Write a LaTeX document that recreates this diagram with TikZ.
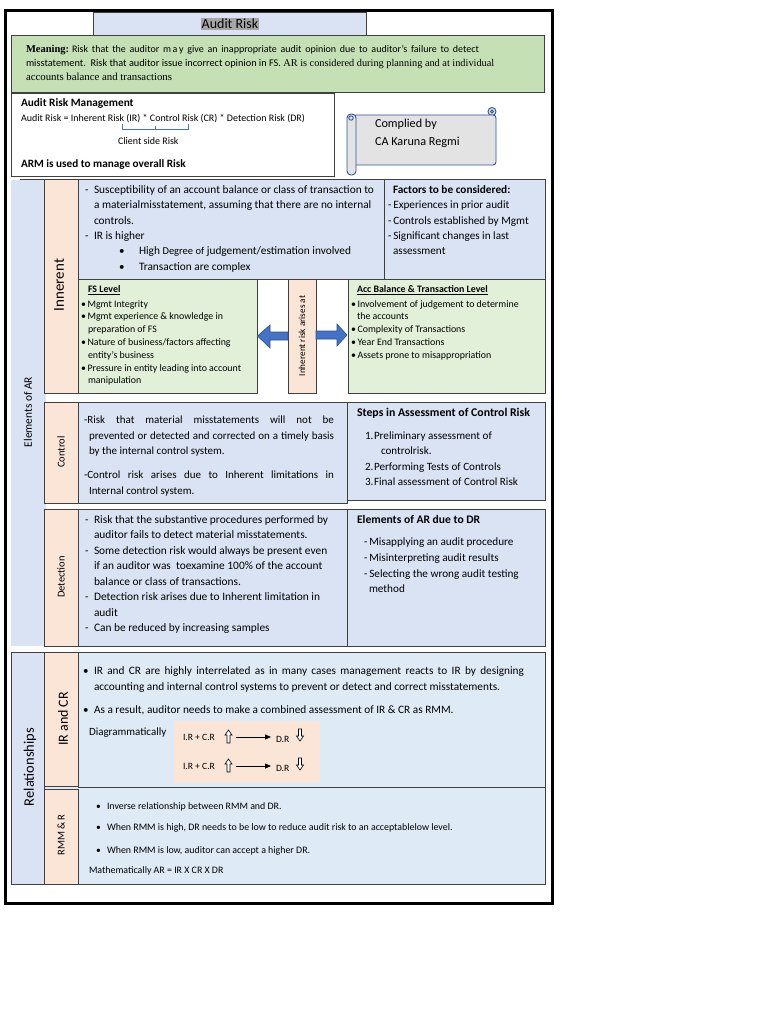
\documentclass[tikz,border=0pt]{standalone}
\usepackage{fontspec}
\setmainfont{Carlito}
\newfontfamily\serifm{Liberation Serif}
\usetikzlibrary{arrows.meta}
\definecolor{lblue}{HTML}{DAE3F3}
\definecolor{rblue}{HTML}{DEEBF7}
\definecolor{mgreen}{HTML}{C5E0B4}
\definecolor{lgreen}{HTML}{E2F0D9}
\definecolor{peach}{HTML}{FBE5D6}
\definecolor{dblue}{HTML}{4472C4}
\definecolor{dblueline}{HTML}{2F528F}
\definecolor{sblue}{HTML}{2F5597}
\definecolor{bord}{HTML}{404040}
\definecolor{scrollg}{HTML}{E3E3E3}
\definecolor{hgray}{HTML}{A6A6A6}
\newcounter{tl}
\newcommand\TL[5][]{\stepcounter{tl}\node[txt,font=\fontsize{#4}{#4}\selectfont,#1] (tl\arabic{tl}) at (#2,#3) {#5};}
\newcommand\JL[6][]{\stepcounter{tl}\node[txt,font=\fontsize{#4}{#4}\selectfont,#1] (tl\arabic{tl}) at (#2,#3) {\makebox[#5pt][s]{#6}};}
\newcommand\UpA[2]{\draw[line width=0.6,fill=white] ({#1-1.5},{#2+13}) -- ({#1-1.5},{#2+5}) -- ({#1-3.5},{#2+5}) -- (#1,#2) -- ({#1+3.5},{#2+5}) -- ({#1+1.5},{#2+5}) -- ({#1+1.5},{#2+13}) -- cycle;}
\newcommand\DnA[2]{\draw[line width=0.6,fill=white] ({#1-1.5},#2) -- ({#1-1.5},{#2+7}) -- ({#1-3.5},{#2+7}) -- (#1,{#2+12}) -- ({#1+3.5},{#2+7}) -- ({#1+1.5},{#2+7}) -- ({#1+1.5},#2) -- cycle;}
\tikzset{
  box/.style={draw=bord, line width=0.8pt},
  txt/.style={anchor=mid west, inner sep=0pt, outer sep=0pt},
  vlab/.style={rotate=90, inner sep=0pt, anchor=center},
  blockarrow/.style={fill=dblue, draw=dblueline, line width=0.6pt},
}
\begin{document}
\begin{tikzpicture}[x=1pt,y=-1pt]
\useasboundingbox (0,0) rectangle (768,1024);
\fill[white] (0,0) rectangle (768,1024);

% ---------- outer frame
\draw[line width=3pt] (5.5,11) rectangle (552.5,903);

% ---------- title
\draw[box, fill=lblue] (93,12) rectangle (366,36);
\node[fill=hgray, inner xsep=0.5pt, inner ysep=1.5pt, font=\fontsize{14}{14}\selectfont] (title) at (230,24) {Audit Risk};

% ---------- meaning
\draw[box, line width=1pt, fill=mgreen] (11,36) rectangle (544,93);
\TL{26}{50}{10.5}{\serifm\bfseries Meaning:}
\JL{72}{50}{10}{407}{Risk that the auditor m\,a\,y give an inappropriate audit opinion due to auditor's failure to detect}
\TL{26}{64}{10.3}{misstatement.\ \ Risk that auditor issue incorrect opinion in FS. {\serifm AR is considered during planning and at individual}}
\TL{26}{78}{10.8}{\serifm accounts balance and transactions}

% ---------- ARM box
\draw[box] (11,93) rectangle (334,176);
\TL{21}{104}{11.3}{\bfseries Audit Risk Management}
\TL{21}{119}{10}{Audit Risk = Inherent Risk (IR) * Control Risk (CR) * Detection Risk (DR)}
\draw[dblue, line width=0.6pt] (122,124) -- (122,129) -- (188,129) -- (188,124);
\draw[dblue, line width=0.6pt] (155,129) -- (155,126);
\TL{118}{142}{10}{Client side Risk}
\TL{21}{165}{11.2}{\bfseries ARM is used to manage overall Risk}

% ---------- scroll
\begin{scope}[draw=sblue, line width=0.9pt, fill=scrollg]
  \filldraw (492,111.5) circle (4);
  \filldraw[rounded corners=3pt] (353,115) -- (496,115) -- (496,165) -- (353,165) -- cycle;
  \draw (492,111.5) circle (1.6);
  \filldraw[rounded corners=4pt] (347,114) rectangle (356,175);
  \draw (351,118) circle (2.2);
\end{scope}
\TL{375}{125}{12.2}{Complied by}
\TL{375}{143}{12.2}{CA Karuna Regmi}

% ---------- elements of AR band
\fill[lblue] (11,180) rectangle (46,646);
\draw[bord, line width=0.8pt] (20,179) -- (545,179);
\node[vlab, font=\fontsize{11.4}{11.4}\selectfont] (elab) at (28,412) {Elements of AR};

% ---------- inherent
\draw[box, fill=peach] (44,179) rectangle (78,393);
\node[vlab, font=\fontsize{15}{15}\selectfont] (inlab) at (59,285) {Innerent};
\draw[box, fill=lblue] (78,179) rectangle (384,279);
\draw[box, fill=lblue] (384,179) rectangle (545,279);
\draw[box, fill=lgreen] (78,279) rectangle (257,393);
\draw[box, fill=peach] (288,279) rectangle (316,393);
\draw[box, fill=lgreen] (348,279) rectangle (545,393);
\node[vlab, font=\fontsize{9.2}{9.2}\selectfont] (arise) at (302,336) {Inherent risk arises at};
\draw[blockarrow] (288,332) -- (270,332) -- (270,325) -- (257.5,336) -- (270,348) -- (270,340) -- (288,340) -- cycle;
\draw[blockarrow] (316,331) -- (337,331) -- (337,324) -- (347,335) -- (337,346) -- (337,339) -- (316,339) -- cycle;

\TL{85}{191}{11.3}{-}
\TL{94}{191}{11.35}{Susceptibility of an account balance or class of transaction to}
\TL{94}{206}{11.35}{a materialmisstatement, assuming that there are no internal}
\TL{94}{222}{11.35}{controls.}
\TL{85}{237}{11.3}{-}
\TL{94}{237}{11.35}{IR is higher}
\TL{119}{252}{11}{\textbullet}
\TL{139}{252}{11.35}{High {\fontsize{10.5}{10.5}\selectfont Degree of} judgement/estimation involved}
\TL{119}{268}{11}{\textbullet}
\TL{139}{268}{11.35}{Transaction are complex}

\TL{393}{191}{11.3}{\bfseries Factors to be considered:}
\TL{388}{206}{11.2}{-\,Experiences in prior audit}
\TL{388}{222}{11.2}{-\,Controls established by Mgmt}
\TL{388}{237}{11.2}{-\,Significant changes in last}
\TL{393}{252}{11.2}{assessment}

\TL{88}{290}{9.9}{\bfseries\underline{FS Level}}
\TL{81}{305}{9.9}{\textbullet\,Mgmt Integrity}
\TL{81}{317}{9.9}{\textbullet\,Mgmt experience \& knowledge in}
\TL{88}{330}{9.9}{preparation of FS}
\TL{81}{343}{9.9}{\textbullet\,Nature of business/factors affecting}
\TL{88}{356}{9.9}{entity's business}
\TL{81}{369}{9.9}{\textbullet\,Pressure in entity leading into account}
\TL{88}{381}{9.9}{manipulation}

\TL{357}{290}{9.9}{\bfseries\underline{Acc Balance \& Transaction Level}}
\TL{351}{305}{9.9}{\textbullet\,Involvement of judgement to determine}
\TL{357}{317}{9.9}{the accounts}
\TL{351}{330}{9.9}{\textbullet\,Complexity of Transactions}
\TL{351}{343}{9.9}{\textbullet\,Year End Transactions}
\TL{351}{356}{9.9}{\textbullet\,Assets prone to misappropriation}

% ---------- control
\draw[box, fill=peach] (44,402) rectangle (78,503);
\node[vlab, font=\fontsize{10.5}{10.5}\selectfont] (clab) at (61,452) {Control};
\draw[box, fill=lblue] (78,402) rectangle (347,503);
\draw[box, fill=lblue] (347,402) rectangle (545,500);
\JL{84}{421}{11}{250}{-Risk that material misstatements will not be}
\JL{89}{437}{11}{245}{prevented or detected and corrected on a timely basis}
\TL{89}{452}{11}{by the internal control system.}
\JL{84}{476}{11}{250}{-Control risk arises due to Inherent limitations in}
\TL{89}{492}{11}{Internal control system.}

\TL{357}{414}{11.8}{\bfseries Steps in Assessment of Control Risk}
\TL{365}{437}{11.1}{1.}
\TL{374}{437}{11.1}{Preliminary assessment of}
\TL{381}{452}{11.1}{controlrisk.}
\TL{365}{468}{11.1}{2.}
\TL{374}{468}{11.1}{Performing Tests of Controls}
\TL{365}{483}{11.1}{3.}
\TL{374}{483}{11.1}{Final assessment of Control Risk}

% ---------- detection
\draw[box, fill=peach] (44,509) rectangle (78,646);
\node[vlab, font=\fontsize{10.5}{10.5}\selectfont] (dlab) at (61,577) {Detection};
\draw[box, fill=lblue] (78,509) rectangle (347,646);
\draw[box, fill=lblue] (347,509) rectangle (545,646);
\TL{85}{521}{11.3}{-}
\TL{94}{521}{11.4}{Risk that the substantive procedures performed by}
\TL{94}{536}{11.4}{auditor fails to detect material misstatements.}
\TL{85}{552}{11.3}{-}
\TL{94}{552}{11.4}{Some detection risk would always be present even}
\TL{94}{567}{11.4}{if an auditor was\ \ toexamine 100\% of the account}
\TL{94}{583}{11.4}{balance or class of transactions.}
\TL{85}{598}{11.3}{-}
\TL{94}{598}{11.4}{Detection risk arises due to Inherent limitation in}
\TL{94}{614}{11.4}{audit}
\TL{85}{629}{11.3}{-}
\TL{94}{629}{11.4}{Can be reduced by increasing samples}

\TL{357}{521}{11.6}{\bfseries Elements of AR due to DR}
\TL{364}{543}{11.2}{-\,Misapplying an audit procedure}
\TL{364}{559}{11.2}{-\,Misinterpreting audit results}
\TL{364}{575}{11.2}{-\,Selecting the wrong audit testing}
\TL{369}{590}{11.2}{method}

% ---------- relationships
\draw[box, fill=rblue] (11,652) rectangle (545,884);
\draw[box, fill=lblue] (11,652) rectangle (44,884);
\node[vlab, font=\fontsize{14.5}{14.5}\selectfont] (rlab) at (30,767) {Relationships};
\draw[box, fill=peach] (44,652) rectangle (78,786.5);
\node[vlab, font=\fontsize{14}{14}\selectfont] (irlab) at (63,719) {IR and CR};
\draw[box, fill=rblue] (78,652) rectangle (545,787);
\draw[box, fill=peach] (44,789) rectangle (78,884);
\node[vlab, font=\fontsize{10.5}{10.5}\selectfont] (rmlab) at (61,835) {RMM \& R};

\TL{83}{672}{11}{\textbullet}
\JL{94}{672}{11.3}{430}{IR and CR are highly interrelated as in many cases management reacts to IR by designing}
\TL{94}{688}{11.35}{accounting and internal control systems to prevent or detect and correct misstatements.}
\TL{83}{711}{11}{\textbullet}
\TL{94}{711}{11.3}{As a result, auditor needs to make a combined assessment of IR \& CR as RMM.}
\TL{89}{733}{11}{Diagrammatically}

\fill[peach] (174,721) rectangle (320,783);
\TL{183}{738}{9.6}{I.R + C.R}
\UpA{228.5}{730}
\draw[line width=0.9pt, -{Triangle[length=6pt,width=5pt]}] (236,737) -- (271,737);
\TL{276}{740}{9.6}{D.R}
\DnA{300}{729}
\TL{183}{767}{9.6}{I.R + C.R}
\UpA{228.5}{759}
\draw[line width=0.9pt, -{Triangle[length=6pt,width=5pt]}] (236,766) -- (271,766);
\TL{276}{769}{9.6}{D.R}
\DnA{300}{758}

\TL{96}{807}{9.5}{\textbullet}
\TL{107}{807}{9.9}{Inverse relationship between RMM and DR.}
\TL{96}{828}{9.5}{\textbullet}
\TL{107}{828}{9.9}{When RMM is high, DR needs to be low to reduce audit risk to an acceptablelow level.}
\TL{96}{851}{9.5}{\textbullet}
\TL{107}{851}{9.9}{When RMM is low, auditor can accept a higher DR.}
\TL{89}{871}{9.9}{Mathematically AR = IR X CR X DR}
\end{tikzpicture}
\end{document}
